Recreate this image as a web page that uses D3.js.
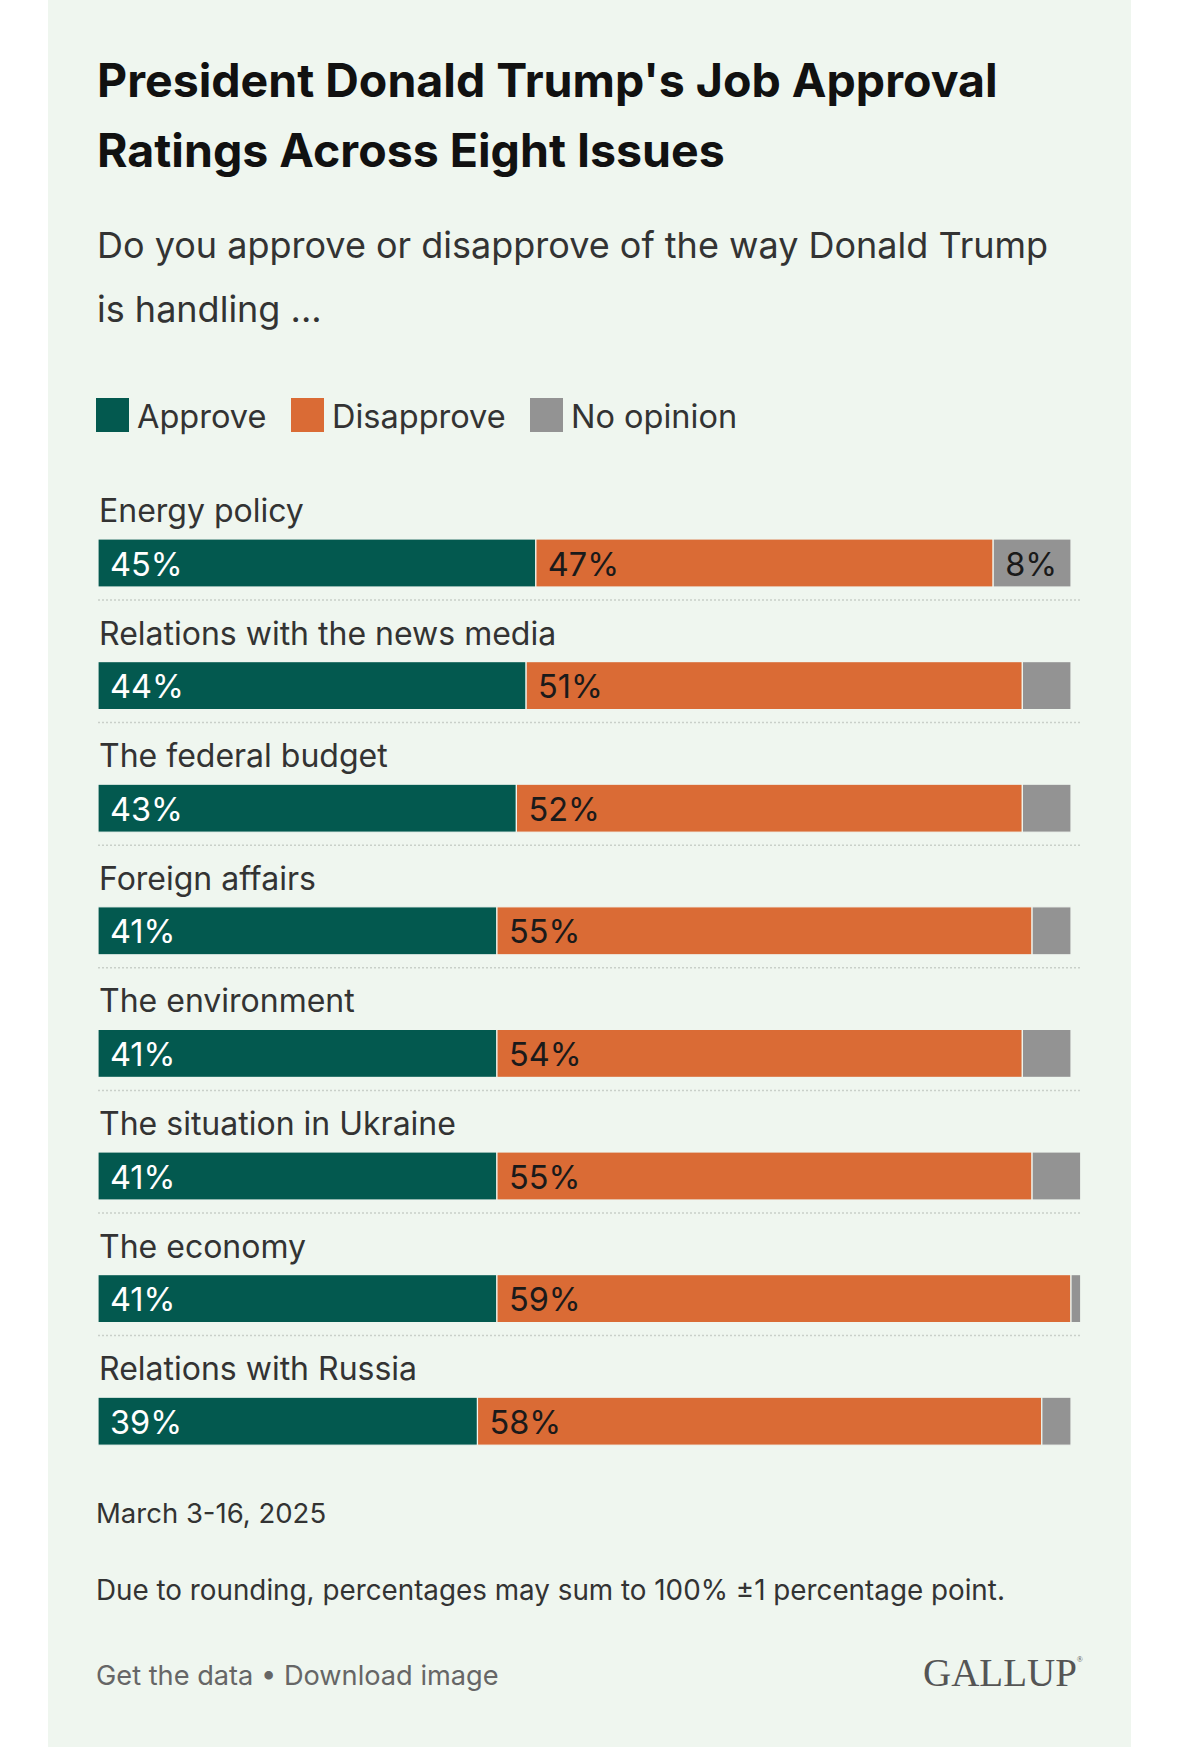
<!DOCTYPE html>
<html>
<head>
<meta charset="utf-8">
<script src="https://cdn.jsdelivr.net/npm/d3@7"></script>
<style>
  body { margin: 0; background: #fff; }
  svg text { font-family: Inter, "Noto Sans", sans-serif; }
</style>
</head>
<body>
<div id="chart"></div>
<script>
// data
var issues = ["Energy policy", "Relations with the news media", "The federal budget",
    "Foreign affairs", "The environment", "The situation in Ukraine",
    "The economy", "Relations with Russia"];
var approve = [45, 44, 43, 41, 41, 41, 41, 39];
var disapprove = [47, 51, 52, 55, 54, 55, 59, 58];
var noOpinion = [8, 5, 5, 4, 5, 5, 1, 3];
var seriesNames = ["Approve", "Disapprove", "No opinion"];
var seriesColors = ["#03594f", "#da6b35", "#939393"];

function init() {
    var w = 1179, h = 1747;
    var bg = "#eff6ef";

    var svg = d3.select("#chart")
        .append("svg")
        .attr("width", w)
        .attr("height", h);

    // panel
    svg.append("rect")
        .attr("x", 48).attr("y", 0)
        .attr("width", 1083).attr("height", h)
        .attr("fill", bg);

    // title + subtitle
    var title = svg.append("text")
        .attr("x", 97).attr("y", 97)
        .attr("fill", "#111")
        .style("font-size", "46.5px")
        .style("font-weight", "700");
    title.append("tspan").attr("x", 97).text("President Donald Trump's Job Approval");
    title.append("tspan").attr("x", 97).attr("dy", 70).text("Ratings Across Eight Issues");

    var sub = svg.append("text")
        .attr("x", 97).attr("y", 258)
        .attr("fill", "#333")
        .style("font-size", "36px");
    sub.append("tspan").attr("x", 97).text("Do you approve or disapprove of the way Donald Trump");
    sub.append("tspan").attr("x", 97).attr("dy", 64).text("is handling ...");

    // legend
    var legendX = [96, 291, 530];
    var legend = svg.selectAll("g.legend")
        .data(seriesNames)
        .enter().append("g")
        .attr("class", "legend")
        .attr("transform", function(d, i) { return "translate(" + legendX[i] + ",398)"; });
    legend.append("rect")
        .attr("width", 33).attr("height", 34)
        .attr("fill", function(d, i) { return seriesColors[i]; });
    legend.append("text")
        .attr("x", 41).attr("y", 30)
        .attr("fill", "#333")
        .style("font-size", "32.5px")
        .text(function(d) { return d; });

    // scales
    var xScale = d3.scaleLinear().domain([0, 100]).range([98, 1071]);
    var yScale = d3.scaleBand().domain(issues).range([539, 539 + 122.6 * issues.length]);
    var barH = 48;

    var rows = issues.map(function(name, i) {
        return { name: name, vals: [approve[i], disapprove[i], noOpinion[i]] };
    });

    var row = svg.selectAll("g.row")
        .data(rows)
        .enter().append("g")
        .attr("class", "row")
        .attr("transform", function(d) { return "translate(0," + yScale(d.name) + ")"; });

    row.append("text")
        .attr("x", 99).attr("y", -17)
        .attr("fill", "#333")
        .style("font-size", "32px")
        .text(function(d) { return d.name; });

    // dotted divider under every row but the last
    row.filter(function(d, i) { return i < issues.length - 1; })
        .append("line")
        .attr("x1", 98).attr("x2", 1081)
        .attr("y1", 61).attr("y2", 61)
        .attr("stroke", "#c9d0c9")
        .attr("stroke-width", 1.5)
        .attr("stroke-dasharray", "2,2");

    row.each(function(d) {
        var g = d3.select(this);
        var start = 0;
        var segs = d.vals.map(function(v, k) {
            var s = { v: v, k: k, x0: start };
            start += v;
            return s;
        });
        g.selectAll("rect.seg")
            .data(segs)
            .enter().append("rect")
            .attr("class", "seg")
            .attr("x", function(s) { return xScale(s.x0); })
            .attr("y", 0)
            .attr("width", function(s) { return xScale(s.x0 + s.v) - xScale(s.x0); })
            .attr("height", barH)
            .attr("fill", function(s) { return seriesColors[s.k]; })
            .attr("stroke", bg)
            .attr("stroke-width", 1.2);
        g.selectAll("text.pct")
            .data(segs.filter(function(s) { return s.v >= 6; }))
            .enter().append("text")
            .attr("class", "pct")
            .attr("x", function(s) { return xScale(s.x0) + 12; })
            .attr("y", 36.5)
            .attr("fill", function(s) { return s.k === 0 ? "#fff" : "#1a1a1a"; })
            .style("font-size", "32.5px")
            .text(function(s) { return s.v + "%"; });
    });

    // footer
    svg.append("text")
        .attr("x", 96).attr("y", 1523)
        .attr("fill", "#333")
        .style("font-size", "27.5px")
        .text("March 3-16, 2025");
    svg.append("text")
        .attr("x", 96).attr("y", 1600)
        .attr("fill", "#333")
        .style("font-size", "27.8px")
        .text("Due to rounding, percentages may sum to 100% \u00b11 percentage point.");
    svg.append("text")
        .attr("x", 96).attr("y", 1685)
        .attr("fill", "#666")
        .style("font-size", "27.2px")
        .text("Get the data \u2022 Download image");
    var logo = svg.append("text")
        .attr("x", 923).attr("y", 1686)
        .attr("fill", "#555")
        .style("font-family", "'Liberation Serif', 'DejaVu Serif', serif")
        .style("font-size", "39px")
        .text("GALLUP");
    logo.append("tspan")
        .attr("dy", -24)
        .style("font-size", "8px")
        .text("\u00ae");
}

window.onload = init;
</script>
</body>
</html>
